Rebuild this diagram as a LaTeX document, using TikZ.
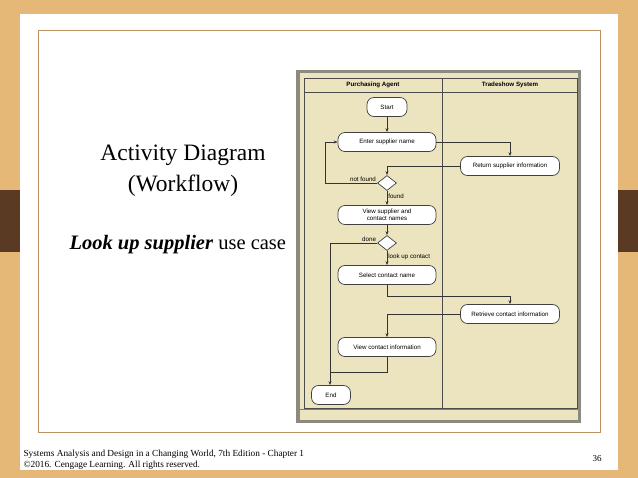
\documentclass[tikz,border=0pt]{standalone}
\usepackage{fontspec}
\setmainfont{Liberation Serif}
\newfontfamily\diag{Liberation Sans}
\usetikzlibrary{shapes.geometric,arrows.meta}
\definecolor{wood}{HTML}{E6B878}
\definecolor{tab}{HTML}{5A3A22}
\definecolor{beige}{HTML}{EBE4BF}
\definecolor{frame}{HTML}{8A8A80}
\begin{document}
\begin{tikzpicture}[x=1pt,y=-1pt,
  act/.style={draw=black!75,fill=white,rounded corners=7pt,minimum height=19pt,font=\diag\fontsize{6.2}{7.2}\selectfont,align=center,line width=0.7pt},
  dec/.style={draw=black!75,fill=white,diamond,minimum width=19pt,minimum height=15pt,inner sep=0pt,line width=0.7pt},
  flow/.style={draw=black!80,line width=0.6pt,-{Stealth[length=4pt,width=3pt]}},
  lbl/.style={font=\diag\fontsize{6.2}{7.2}\selectfont,inner sep=1pt}]
\useasboundingbox (0,0) rectangle (638,478);
\fill[wood] (0,0) rectangle (638,478);
\fill[tab] (0,190) rectangle (22,252);
\fill[tab] (616,190) rectangle (638,252);
\fill[white] (20,14) rectangle (618,470);
\draw[wood!80!black,line width=0.5pt] (38,30) rectangle (600,432);
% texts
\node[font=\fontsize{23.5}{28}\selectfont] (t1) at (183,155) {Activity Diagram};
\node[font=\fontsize{23.5}{28}\selectfont] (t2) at (183,186) {(Workflow)};
\node[font=\fontsize{20.5}{24}\selectfont,anchor=west] (t3) at (66,245) {\textbf{\textit{Look up supplier}} use case};
\node[font=\fontsize{9.3}{11}\selectfont,anchor=west,align=left] (f) at (20,460) {Systems Analysis and Design in a Changing World, 7th Edition - Chapter 1\\\textcopyright2016. Cengage Learning. All rights reserved.};
\node[font=\fontsize{9}{10}\selectfont] (pg) at (597,459) {36};
% diagram frame
\fill[frame] (296,70) rectangle (581,423);
\fill[beige] (300,73) rectangle (578,420);
\draw[black!70,line width=0.6pt] (304,78) rectangle (577,408);
\draw[black!70,line width=0.6pt] (304,92) -- (577,92);
\draw[black!70,line width=0.6pt] (442,78) -- (442,408);
\draw[black!50,line width=0.4pt] (300,409) -- (578,409);
\node[font=\diag\bfseries\fontsize{6.2}{7}\selectfont] (h1) at (373,85) {Purchasing Agent};
\node[font=\diag\bfseries\fontsize{6.2}{7}\selectfont] (h2) at (510,85) {Tradeshow System};
% nodes
\node[act,minimum width=40pt] (start) at (387,107) {Start};
\node[act,minimum width=98pt] (enter) at (387,142) {Enter supplier name};
\node[act,minimum width=99pt] (ret) at (510,166) {Return supplier information};
\node[dec] (d1) at (387,183) {};
\node[act,minimum width=98pt,inner sep=1pt] (view) at (387,215) {View supplier and\\contact names};
\node[dec] (d2) at (387,243) {};
\node[act,minimum width=98pt] (sel) at (387,275) {Select contact name};
\node[act,minimum width=99pt] (retr) at (510,314) {Retrieve contact information};
\node[act,minimum width=98pt] (vci) at (387,347) {View contact information};
\node[act,minimum width=39pt] (end) at (331,395) {End};
\coordinate (c1) at (325,183);
\coordinate (c2) at (325,142);
\coordinate (c3) at (330,243);
\coordinate (c4) at (387,372);
\coordinate (c5) at (330,372);
% flows
\draw[flow] (start) -- (enter);
\draw[flow] (enter.east) -| (ret.north);
\draw[flow] (ret.west) -| (d1.north);
\draw[flow] (d1.west) -- (c1) -- (c2) -- (enter.west);
\node[lbl,anchor=south east] (nf) at (d1.west) {not found};
\draw[flow] (d1.south) -- node[lbl,anchor=west,pos=0.4] (fd) {found} (view.north);
\draw[flow] (view) -- (d2);
\draw[flow] (d2.west) -- (c3) -- (end.north -| c3);
\node[lbl,anchor=south east] (dn) at (d2.west) {done};
\draw[flow] (d2.south) -- node[lbl,anchor=west,pos=0.4] (lc) {look up contact} (sel.north);
\draw[flow] (sel.south) |- (510,296) -- (retr.north);
\draw[flow] (retr.west) -| (vci.north);
\draw[line width=0.6pt,black!80] (vci.south) -- (c4) -- (c5);
\end{tikzpicture}
\end{document}
